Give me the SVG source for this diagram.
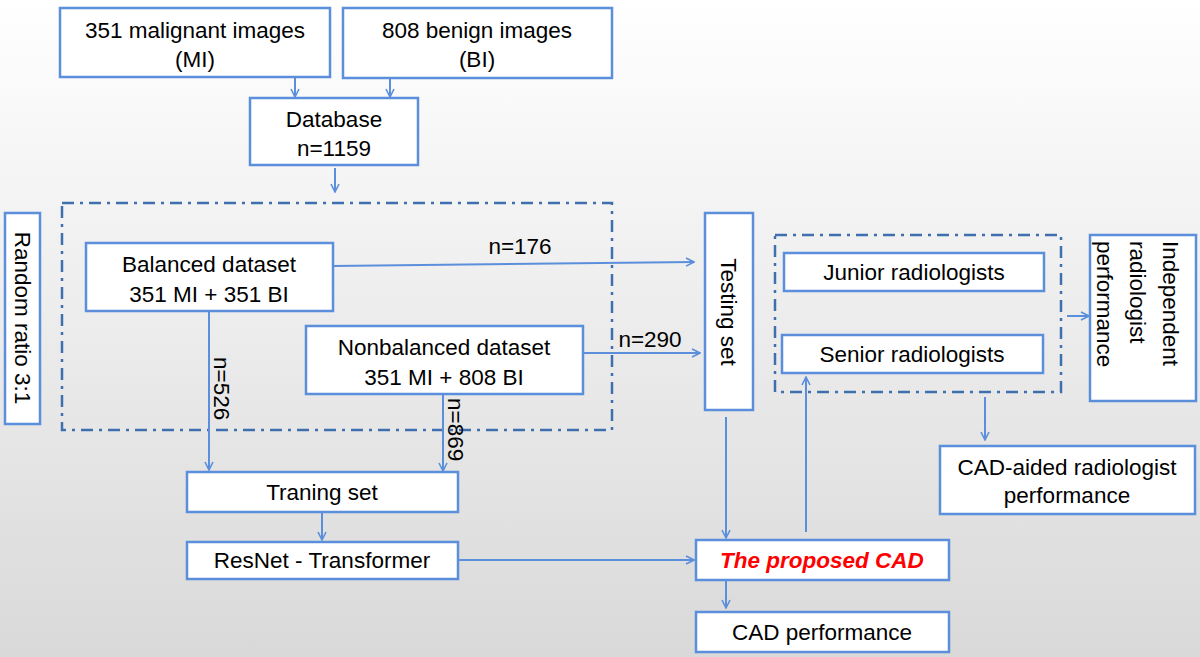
<svg xmlns="http://www.w3.org/2000/svg" width="1200" height="657" viewBox="0 0 1200 657">
<defs>
<linearGradient id="bg" x1="0" y1="0" x2="0" y2="1"><stop offset="0" stop-color="#ffffff"/><stop offset="1" stop-color="#d9d9d9"/></linearGradient>
<marker id="ah" viewBox="0 0 10 10" refX="9" refY="5" markerWidth="10" markerHeight="10" markerUnits="userSpaceOnUse" orient="auto"><path d="M1,1 L9,5 L1,9" fill="none" stroke="#5b8fdc" stroke-width="1.6"/></marker>
<style>
.b{fill:#fff;stroke:#5b8fdc;stroke-width:2.5}
.d{fill:none;stroke:#3f6fae;stroke-width:2.5;stroke-dasharray:12,6,3,6}
.t{font-family:"Liberation Sans",Arial,sans-serif;font-size:22.5px;fill:#000;text-anchor:middle}
.c{fill:none;stroke:#5b8fdc;stroke-width:2;marker-end:url(#ah)}
</style>
</defs>
<rect width="1200" height="657" fill="url(#bg)"/>
<rect class="d" x="62" y="203" width="550" height="227"/>
<rect class="d" x="775" y="235" width="286" height="157"/>
<g id="mi"><rect class="b" x="60" y="8" width="270" height="69"/><text class="t" x="195" y="38">351 malignant images</text><text class="t" x="195" y="67">(MI)</text></g>
<g id="bi"><rect class="b" x="343" y="8" width="269" height="70"/><text class="t" x="477" y="38">808 benign images</text><text class="t" x="477" y="67">(BI)</text></g>
<g id="db"><rect class="b" x="250" y="98" width="168" height="67"/><text class="t" x="334" y="127">Database</text><text class="t" x="334" y="156">n=1159</text></g>
<g id="rr"><rect class="b" x="5" y="213" width="35" height="211"/><text class="t" transform="translate(15,318) rotate(90)">Random ratio 3:1</text></g>
<g id="bal"><rect class="b" x="86" y="243" width="247" height="68"/><text class="t" x="209" y="272">Balanced dataset</text><text class="t" x="209" y="302">351 MI + 351 BI</text></g>
<g id="nonbal"><rect class="b" x="306" y="326" width="277" height="68"/><text class="t" x="444" y="355">Nonbalanced dataset</text><text class="t" x="444" y="385">351 MI + 808 BI</text></g>
<g id="test"><rect class="b" x="705" y="213" width="48" height="197"/><text class="t" transform="translate(721,312) rotate(90)">Testing set</text></g>
<g id="train"><rect class="b" x="187" y="472" width="271" height="40"/><text class="t" x="322" y="500">Traning set</text></g>
<g id="resnet"><rect class="b" x="187" y="542" width="271" height="37"/><text class="t" x="322" y="568">ResNet - Transformer</text></g>
<g id="cad"><rect class="b" x="696" y="540" width="253" height="40"/><text class="t" x="822" y="568" style="fill:#ff0000;font-weight:bold;font-style:italic">The proposed CAD</text></g>
<g id="cadperf"><rect class="b" x="696" y="612" width="253" height="40"/><text class="t" x="822" y="640">CAD performance</text></g>
<g id="junior"><rect class="b" x="784" y="253" width="260" height="38"/><text class="t" x="914" y="280">Junior radiologists</text></g>
<g id="senior"><rect class="b" x="782" y="335" width="261" height="38"/><text class="t" x="912" y="362">Senior radiologists</text></g>
<g id="indep"><rect class="b" x="1090" y="235" width="106" height="166"/><text class="t" style="text-anchor:start" transform="translate(1163,241) rotate(90)">Independent</text><text class="t" style="text-anchor:start" transform="translate(1130,241) rotate(90)">radiologist</text><text class="t" style="text-anchor:start" transform="translate(1097,241) rotate(90)">performance</text></g>
<g id="aided"><rect class="b" x="940" y="446" width="255" height="68"/><text class="t" x="1067" y="475">CAD-aided radiologist</text><text class="t" x="1067" y="503">performance</text></g>
<g id="connectors">
<line class="c" x1="295" y1="77" x2="295" y2="97"/>
<line class="c" x1="390" y1="78" x2="390" y2="97"/>
<line class="c" x1="335" y1="168" x2="335" y2="192"/>
<line class="c" x1="333" y1="266" x2="694" y2="262"/>
<line class="c" x1="583" y1="353" x2="700" y2="353"/>
<line class="c" x1="209" y1="311" x2="209" y2="470"/>
<line class="c" x1="443" y1="394" x2="443" y2="471"/>
<line class="c" x1="322" y1="512" x2="322" y2="540"/>
<line class="c" x1="458" y1="560" x2="694" y2="560"/>
<line class="c" x1="726" y1="417" x2="726" y2="538"/>
<line class="c" x1="806" y1="532" x2="806" y2="377"/>
<line class="c" x1="726" y1="580" x2="726" y2="608"/>
<line class="c" x1="1067" y1="316" x2="1089" y2="316"/>
<line class="c" x1="985" y1="397" x2="985" y2="440"/>
<text class="t" x="520" y="254">n=176</text>
<text class="t" x="650" y="347">n=290</text>
<text class="t" style="text-anchor:start" transform="translate(214,357) rotate(90)">n=526</text>
<text class="t" style="text-anchor:start" transform="translate(448,398) rotate(90)">n=869</text>
</g>
</svg>
